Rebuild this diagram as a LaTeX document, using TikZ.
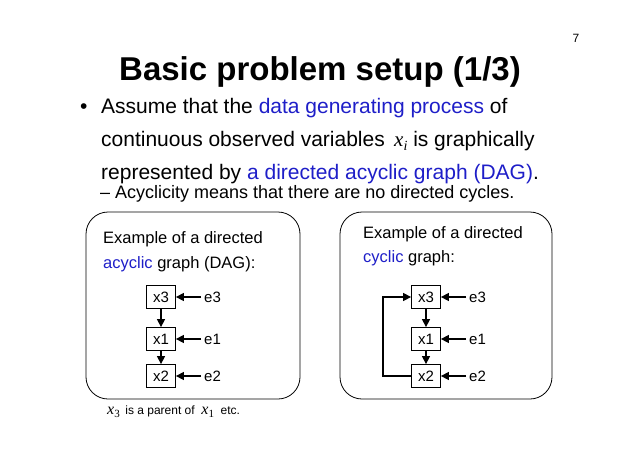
\documentclass[tikz,border=0pt]{standalone}
\usepackage{fontspec}
\setmainfont{Liberation Sans}
\newfontfamily\serifx{Liberation Serif}
\usetikzlibrary{arrows.meta}
\definecolor{hl}{RGB}{30,30,200}
\begin{document}
\begin{tikzpicture}[x=1pt,y=-1pt,
  vbox/.style={draw,thick,minimum width=29pt,minimum height=23pt,inner sep=0pt,font=\fontsize{15}{17}\selectfont},
  elab/.style={font=\fontsize{15}{17}\selectfont,anchor=west,inner sep=3pt},
  arr/.style={-{Triangle[length=8pt,width=8pt]},line width=1.3pt},
  panel/.style={draw,thick,rounded corners=22pt},
  txt/.style={anchor=base west,inner sep=0pt}]
\useasboundingbox (0,0) rectangle (638,451);
\node[anchor=base] (pg) at (576,42) {\fontsize{12}{14}\selectfont 7};
\node[anchor=base] (title) at (320,80) {\fontsize{33}{37}\selectfont\bfseries Basic problem setup (1/3)};
\begin{scope}[every node/.style={txt,font=\fontsize{21}{24}\selectfont}]
\node (b) at (80,113) {•};
\node (l1) at (101,113) {Assume that the \textcolor{hl}{data generating process} of};
\node (l2) at (101,146) {continuous observed variables \,{\serifx\itshape x}\raisebox{-4pt}{\fontsize{14}{14}\selectfont\serifx\itshape i} is graphically};
\node (l3) at (101,179) {represented by \textcolor{hl}{a directed acyclic graph (DAG)}.};
\end{scope}
\node[txt,font=\fontsize{18}{20}\selectfont] (l4) at (100,198) {– Acyclicity means that there are no directed cycles.};
\draw[panel] (86,212) rectangle (300,399);
\draw[panel] (340,212) rectangle (552,399);
\begin{scope}[every node/.style={txt,font=\fontsize{16.5}{18}\selectfont}]
\node (a1) at (103,243) {Example of a directed};
\node (a2) at (103,268) {\textcolor{hl}{acyclic} graph (DAG):};
\node (c1) at (363,238) {Example of a directed};
\node (c2) at (363,262) {\textcolor{hl}{cyclic} graph:};
\end{scope}
\foreach \p/\x in {L/161,R/426}{
  \node[vbox] (x3\p) at (\x,297) {x3};
  \node[vbox] (x1\p) at (\x,339) {x1};
  \node[vbox] (x2\p) at (\x,376) {x2};
  \node[elab] (e3\p) at (\x+40,297) {e3};
  \node[elab] (e1\p) at (\x+40,339) {e1};
  \node[elab] (e2\p) at (\x+40,376) {e2};
  \draw[arr] (x3\p) -- (x1\p);
  \draw[arr] (x1\p) -- (x2\p);
  \draw[arr] (e3\p) -- (x3\p);
  \draw[arr] (e1\p) -- (x1\p);
  \draw[arr] (e2\p) -- (x2\p);
}
\draw[arr] (x2R.west) -- (383,376) -- (383,297) -- (x3R.west);
\node[txt] (foot) at (107,414) {{\serifx\itshape\fontsize{16}{18}\selectfont x}\raisebox{-3pt}{\serifx\fontsize{11}{12}\selectfont 3}\ \ \fontsize{12}{14}\selectfont is a parent of \ {\serifx\itshape\fontsize{16}{18}\selectfont x}\raisebox{-3pt}{\serifx\fontsize{11}{12}\selectfont 1}\ \ etc.};
\end{tikzpicture}
\end{document}
